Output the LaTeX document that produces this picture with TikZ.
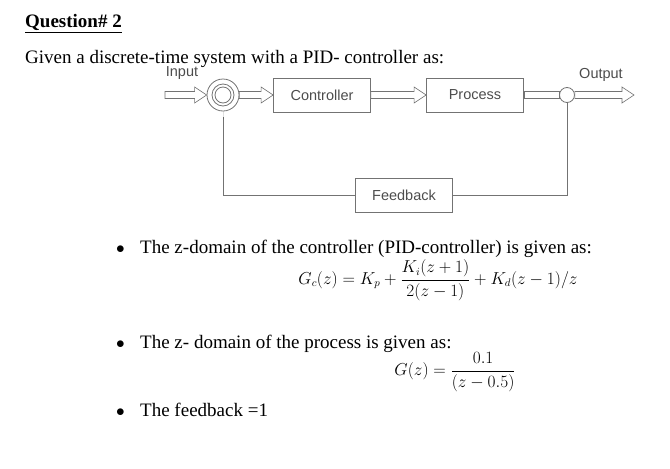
\documentclass[tikz,border=0pt]{standalone}
\usepackage{amsmath}
\usepackage{fontspec}
\setmainfont{Liberation Serif}
\newfontfamily\sfont{Liberation Sans}
\usetikzlibrary{calc,arrows.meta}
\newcommand\hollowarr[2]{\draw[garr] let \p1=#1, \p2=#2 in (\x1,\y1+3.5pt) -- (\x2-12pt,\y1+3.5pt) -- (\x2-12pt,\y1+8pt) -- (\x2,\y1) -- (\x2-12pt,\y1-8pt) -- (\x2-12pt,\y1-3.5pt) -- (\x1,\y1-3.5pt) -- cycle;}
\newcommand\hollowbar[2]{\draw[garr] let \p1=#1, \p2=#2 in (\x1,\y1+3.5pt) rectangle (\x2,\y1-3.5pt);}
\begin{document}
\begin{tikzpicture}[x=1pt,y=-1pt,
  gbox/.style={draw=black!55,line width=0.7pt,minimum width=97pt,minimum height=34pt,inner sep=0pt,font=\sfont\fontsize{14.5}{16}\selectfont,text=black!70},
  garr/.style={draw=black!55,line width=0.6pt,fill=white},
  gline/.style={draw=black!55,line width=0.8pt},
  txt/.style={anchor=base west,inner sep=0pt,font=\fontsize{19}{21}\selectfont},
  lbl/.style={font=\sfont\fontsize{14.5}{16}\selectfont,text=black!70,inner sep=0pt}]
\useasboundingbox (0,0) rectangle (670,469);
\node[txt] (q) at (25,27) {\textbf{\underline{Question\# 2}}};
\node[txt] (g) at (25,63) {Given a discrete-time system with a PID- controller as:};
\node[lbl] (inl) at (182,73) {Input};
\node[lbl] (outl) at (601,75) {Output};
\coordinate (in) at (165,95);
\coordinate (out) at (634,95);
\node[draw=black!55,line width=0.8pt,circle,minimum size=32pt,inner sep=0pt] (sum) at (223,95) {};
\draw[gline] (sum) circle (11pt) (sum) circle (8pt);
\node[draw=black!55,line width=0.8pt,circle,minimum size=15pt,inner sep=0pt,fill=white] (o) at (567,95) {};
\node[gbox] (ctrl) at (322,95) {Controller};
\node[gbox] (proc) at (475,95) {Process};
\node[gbox] (fb) at (404,195) {Feedback};
\hollowarr{(in)}{(sum.west)}
\hollowarr{(sum.east)}{(ctrl.west)}
\hollowarr{(ctrl.east)}{(proc.west)}
\hollowbar{(proc.east)}{(o.west)}
\hollowarr{(o.east)}{(out)}
\draw[gline] (o.south) |- (fb.east);
\draw[gline] (fb.west) -| ($(sum.south)+(0,6)$);
\draw[draw=none,fill=black,-{Triangle[length=7pt,width=6pt]}] ($(sum.south)+(0,8)$) -- (sum.south);
\node[txt] (b1) at (116,253) {$\bullet$};
\node[txt] (t1) at (140,253) {The z-domain of the controller (PID-controller) is given as:};
\node[inner sep=0pt,font=\fontsize{16}{18}\selectfont] (e1) at (438,280) {$G_c(z)=K_p+\dfrac{K_i(z+1)}{2(z-1)}+K_d(z-1)/z$};
\node[txt] (b2) at (116,348) {$\bullet$};
\node[txt] (t2) at (140,348) {The z- domain of the process is given as:};
\node[inner sep=0pt,font=\fontsize{17}{19}\selectfont] (e2) at (455,372) {$G(z)=\dfrac{0.1}{(z-0.5)}$};
\node[txt] (b3) at (116,416) {$\bullet$};
\node[txt] (t3) at (140,416) {The feedback =1};
\end{tikzpicture}
\end{document}
